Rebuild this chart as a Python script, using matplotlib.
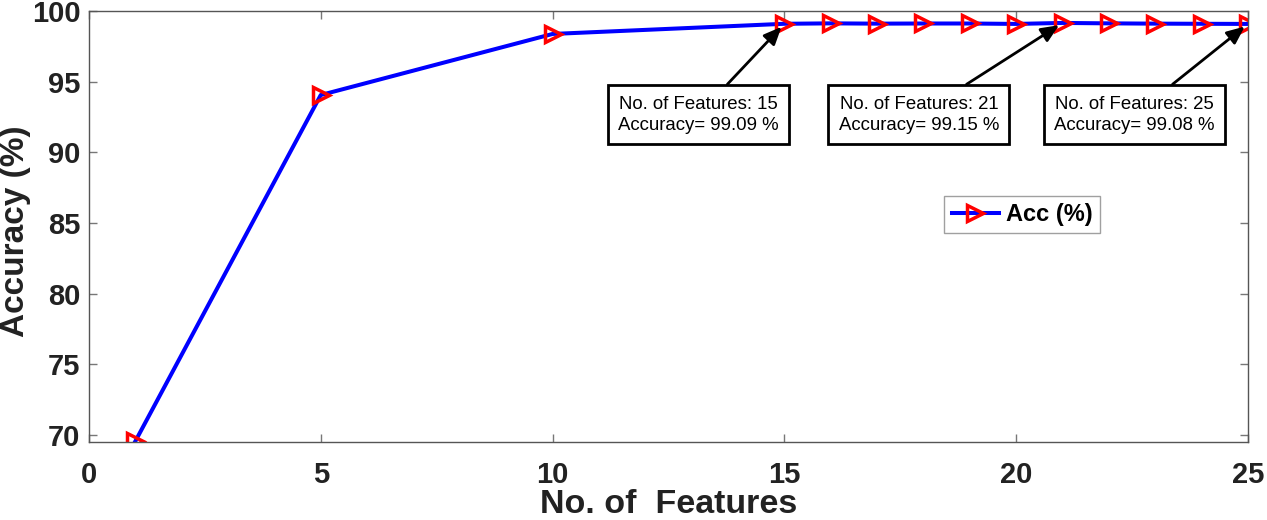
import matplotlib
matplotlib.use("Agg")
import matplotlib.pyplot as plt

features = [1, 5, 10, 15, 16, 17, 18, 19, 20, 21, 22, 23, 24, 25]
accuracy = [69.55, 94.05, 98.37, 99.09, 99.12, 99.10, 99.11, 99.11, 99.08, 99.15, 99.12, 99.10, 99.09, 99.08]
x_ticks = [0, 5, 10, 15, 20, 25]
y_ticks = [70, 75, 80, 85, 90, 95, 100]
annot_idx = [3, 9, 13]
annot_text_pos = [(13.15, 92.65), (17.9, 92.65), (22.55, 92.65)]

plt.rcParams['font.family'] = ['Liberation Sans', 'DejaVu Sans']

fig = plt.figure(figsize=(12.67, 5.2), dpi=100)
ax = fig.add_axes([0.0702, 0.15, 0.9148, 0.829])

ax.plot(features, accuracy, color='#0000ff', lw=2.9, marker='>', markersize=11.5,
        markerfacecolor='none', markeredgecolor='#ff0000', markeredgewidth=2.5,
        label='Acc (%)')

ax.set_xlim(0, 25)
ax.set_ylim(69.5, 100)
ax.set_xticks(x_ticks)
ax.set_yticks(y_ticks)
ax.tick_params(direction='in', length=6, width=1, color='#777777', top=True, right=True,
               labelsize=21, labelcolor='#222222')
ax.tick_params(axis='x', pad=14)
ax.tick_params(axis='y', pad=6)
for lab in ax.get_xticklabels() + ax.get_yticklabels():
    lab.set_fontweight('bold')
for s in ax.spines.values():
    s.set_color('#555555')
    s.set_linewidth(1.0)

ax.set_xlabel('No. of  Features', fontsize=24.5, fontweight='bold', color='#222222')
ax.set_ylabel('Accuracy (%)', fontsize=24, fontweight='bold', color='#222222')
ax.xaxis.set_label_coords(0.5, -0.11)
ax.yaxis.set_label_coords(-0.05, 0.49)

for i, (tx, ty) in zip(annot_idx, annot_text_pos):
    ax.annotate(f'No. of Features: {features[i]}\nAccuracy= {accuracy[i]:.2f} %',
                xy=(features[i], accuracy[i]), xytext=(tx, ty), textcoords='data',
                ha='center', va='center', fontsize=13.4, color='black', linespacing=1.35,
                bbox=dict(boxstyle='square,pad=0.55', fc='white', ec='black', lw=2),
                arrowprops=dict(arrowstyle='-|>,head_length=0.8,head_width=0.35', color='black', lw=2,
                                shrinkA=0, shrinkB=3))

leg = ax.legend(loc='center', bbox_to_anchor=(0.805, 0.527), frameon=True,
                fancybox=False, edgecolor='#888888', handlelength=2.0, handletextpad=0.3,
                borderpad=0.3, prop={'weight': 'bold', 'size': 17})
leg.get_frame().set_linewidth(1.0)

fig.savefig('out.png', dpi=100)
